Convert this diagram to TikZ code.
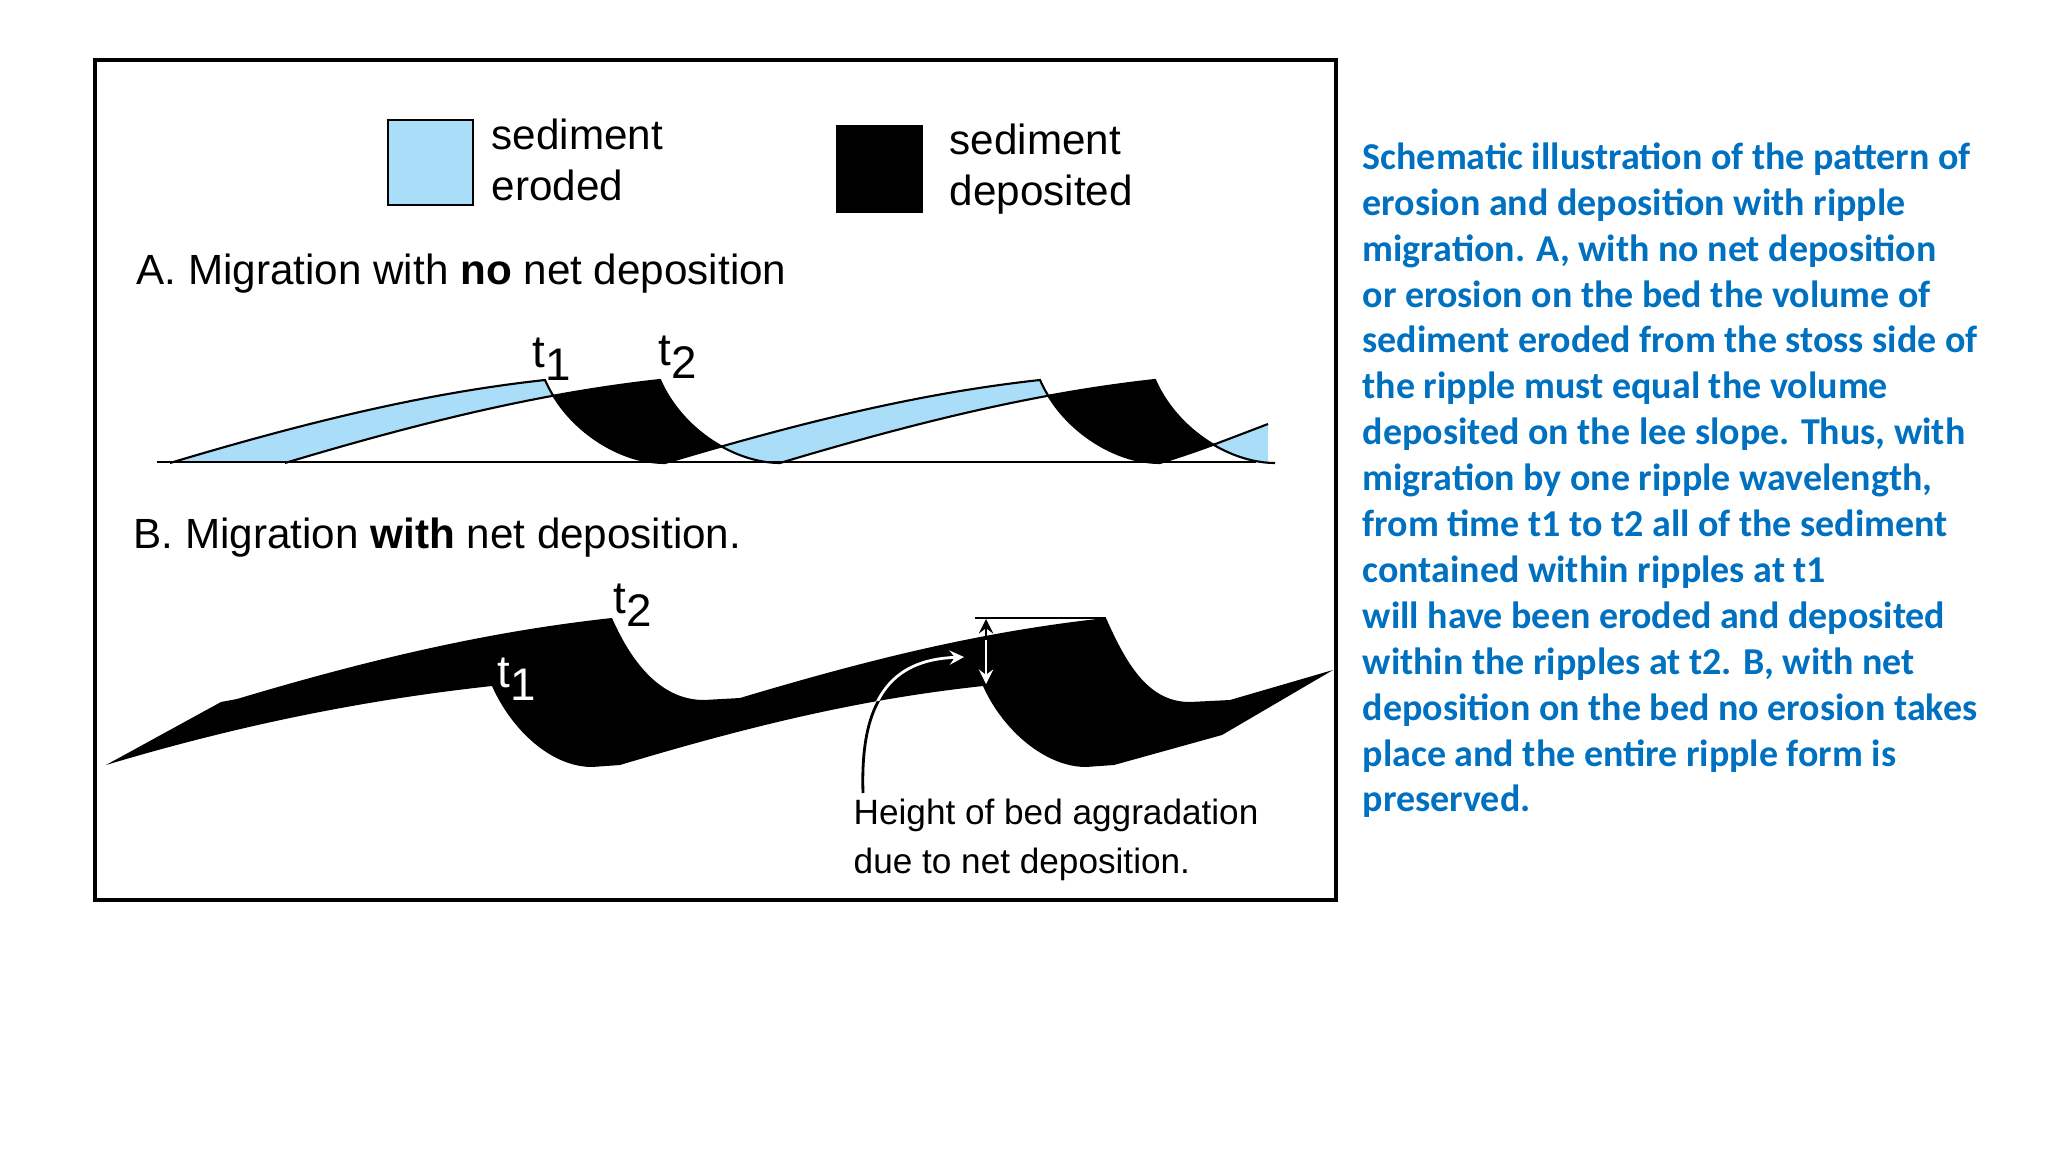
\documentclass[tikz,border=0pt]{standalone}
\usepackage{fontspec}
\setmainfont{Liberation Sans}
\newfontfamily\capfont{Carlito}
\definecolor{eroded}{RGB}{170,222,248}
\definecolor{captxt}{RGB}{0,112,192}
\newcommand\rs{.. controls +(150,-45) and +(-110,12) .. ++(375,-83) .. controls +(22,50) and +(-45,0) .. ++(120,83)}
\newcommand\pAone{(170,463) \rs \rs .. controls (1200,450) .. (1268,424)}
\newcommand\pAtwo{(285,463) \rs \rs}
\newcommand\pB{(106,765) -- (221,702) -- (237,699)
 .. controls +(150,-45) and +(-110,12) .. (612,618)
 .. controls +(22,50) and +(-40,0) .. (704,700) -- (740,698)
 .. controls +(150,-45) and +(-110,12) .. (1106,618)
 .. controls +(22,50) and +(-40,0) .. (1190,702) -- (1230,700) -- (1333,670)
 -- (1222,735) -- (1114,765) -- (1086,767)
 .. controls +(-40,0) and +(20,45) .. (983,686)
 .. controls +(-110,12) and +(150,-45) .. (620,765) -- (592,767)
 .. controls +(-40,0) and +(20,45) .. (492,686)
 .. controls +(-110,12) and +(150,-45) .. cycle}
\tikzset{lbl/.style={font=\fontsize{12}{14.5}\selectfont,inner sep=0pt,anchor=west,align=left},
 tl/.style={font=\fontsize{13}{14}\selectfont,inner sep=0pt}}
\begin{document}
\begin{tikzpicture}[x=0.01cm,y=-0.01cm]
\useasboundingbox (0,0) rectangle (2048,1152);
\fill[white] (0,0) rectangle (2048,1152);
\draw[line width=1.2pt] (95,60) rectangle (1336,900);
% legend
\node[draw=black,fill=eroded,line width=0.6pt,minimum width=0.85cm,minimum height=0.85cm,inner sep=0pt] (le) at (430.5,162.5) {};
\node[lbl] (lt) at (491,160) {sediment\\eroded};
\node[fill=black,minimum width=0.87cm,minimum height=0.88cm,inner sep=0pt] (ld) at (879.5,169) {};
\node[lbl] (dt) at (949,169) {sediment\\deposited};
\node[lbl] (ta) at (136,274) {A. Migration with \textbf{no} net deposition};
\node[lbl] (tb) at (133,538) {B. Migration \textbf{with} net deposition.};
% panel A
\fill[eroded] \pAone -- (1268,463) -- cycle;
\fill[black] \pAtwo -- cycle;
\begin{scope}
\clip \pAone -- (1268,463) -- cycle;
\fill[white] \pAtwo -- cycle;
\end{scope}
\draw[line width=0.6pt] (157,462) -- (1256,462);
\draw[line width=0.6pt] \pAone;
\draw[line width=0.6pt] \pAtwo;
\node[tl] (a1) at (552,359) {t\raisebox{-.55ex}{1}};
\node[tl] (a2) at (678,357) {t\raisebox{-.55ex}{2}};
% panel B
\fill[black] \pB;
\draw[line width=0.6pt] (975,618) -- (1106,618);
\node[tl,text=white] (b1) at (517,679) {t\raisebox{-.55ex}{1}};
\node[tl] (b2) at (633,605) {t\raisebox{-.55ex}{2}};
\coordinate (ht) at (986,619);
\coordinate (hb) at (986,684);
\draw[white,line width=0.8pt,<->,>=stealth] (ht) -- (hb);
\draw[black,line width=0.8pt,<-,>=stealth] (ht) -- (986,640);
\coordinate (cs) at (863,793);
\coordinate (ce) at (964,657);
\draw[line width=0.8pt] (cs) .. controls (860,700) and (890,660) .. (ce);
\begin{scope}
\clip \pB;
\draw[white,line width=0.8pt,->,>=stealth] (cs) .. controls (860,700) and (890,660) .. (ce);
\end{scope}
\node[lbl,font=\fontsize{10}{12}\selectfont,anchor=base west] (c1) at (853,824) {Height of bed aggradation};
\node[lbl,font=\fontsize{10}{12}\selectfont,anchor=base west] (c2) at (853,873) {due to net deposition.};
% caption
\node[anchor=north west,inner sep=0pt,align=left,text=captxt,font=\capfont\bfseries\fontsize{10.8}{13.05}\selectfont] (cap) at (1362,142) {Schematic illustration of the pattern of\\erosion and deposition with ripple\\migration. A, with no net deposition\\or erosion on the bed the volume of\\sediment eroded from the stoss side of\\the ripple must equal the volume\\deposited on the lee slope. Thus, with\\migration by one ripple wavelength,\\from time t1 to t2 all of the sediment\\contained within ripples at t1\\will have been eroded and deposited\\within the ripples at t2. B, with net\\deposition on the bed no erosion takes\\place and the entire ripple form is\\preserved.};
\end{tikzpicture}
\end{document}
